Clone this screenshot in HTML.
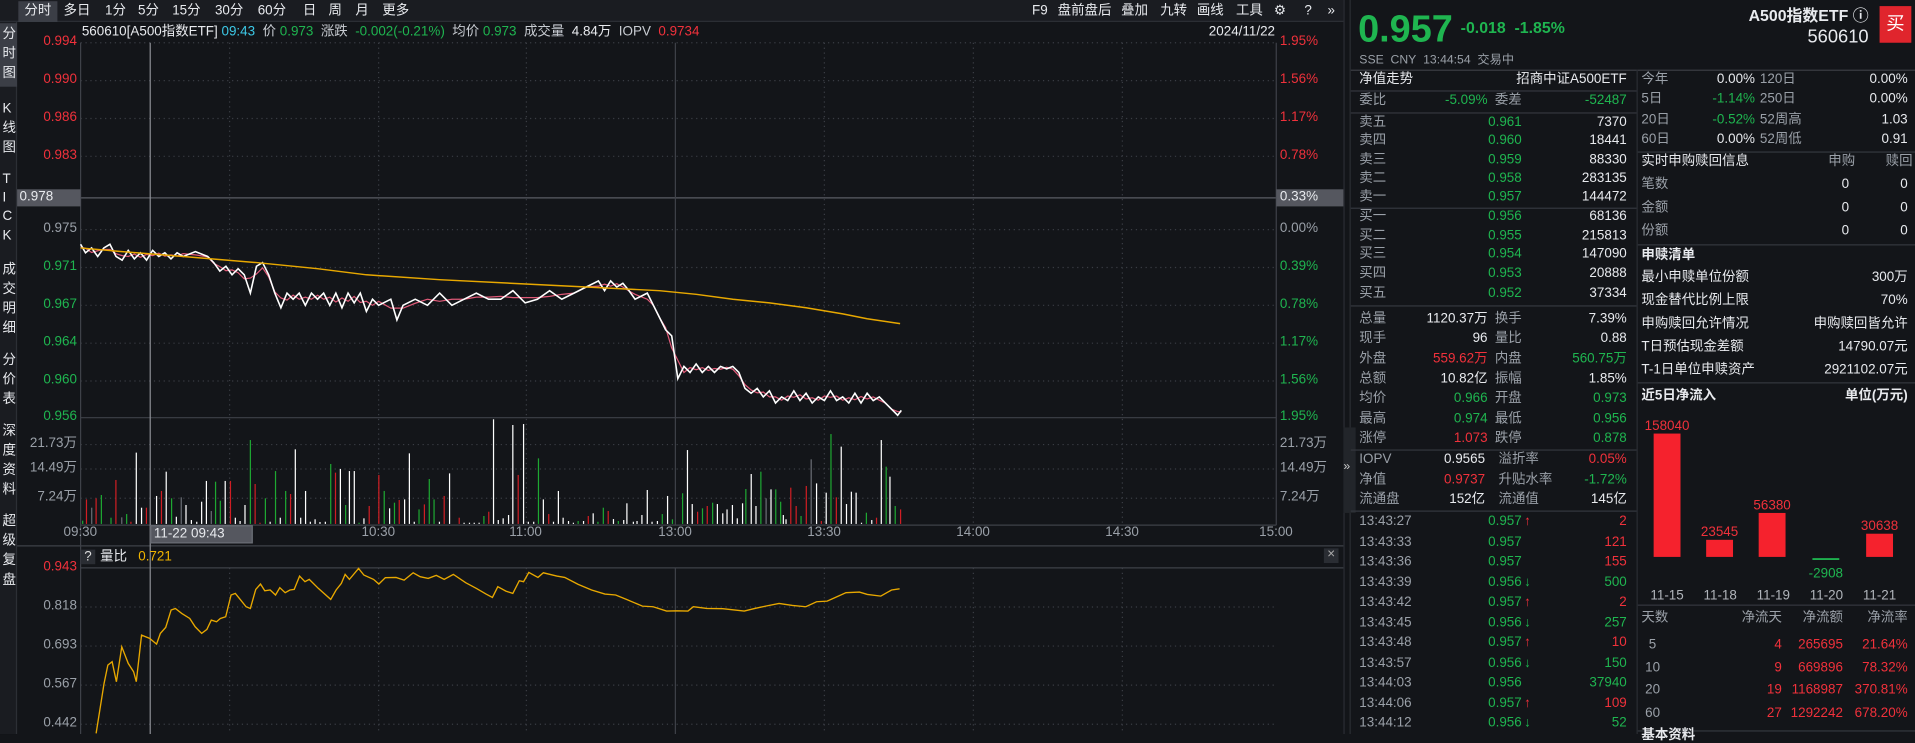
<!DOCTYPE html><html><head><meta charset="utf-8"><style>
*{margin:0;padding:0;box-sizing:border-box}
body{width:1915px;height:734px;overflow:hidden;background:#131519;font-family:"Liberation Sans","Noto Sans CJK SC",sans-serif;}
#root{position:absolute;left:0;top:0;width:1568px;height:601px;transform:scale(1.22130);transform-origin:0 0;color:#c8ccd2;font-size:11px;}
.a{position:absolute;white-space:nowrap;line-height:1}
.g{color:#1fb550}.rd{color:#f0313b}.gy{color:#9aa0a8}.w{color:#e8eaee}.y{color:#f0b400}
.hl{position:absolute;height:1px;background:#34373e}
.vl{position:absolute;width:1px;background:#34373e}
</style></head><body><div id="root">
<div class="a" style="left:0;top:0;width:1100px;height:18px;background:#1a1c21;border-bottom:1px solid #2c2f35"></div>
<div class="a" style="left:15px;top:1px;width:32px;height:17px;background:#3b3e46"></div>
<div class="vl" style="left:1100px;top:0;height:601px;background:#2a2d33"></div>
<div class="vl" style="left:1105px;top:0;height:601px;background:#2a2d33"></div>
<div class="a" style="left:0;top:18px;width:14px;height:583px;background:#1a1c21;border-right:1px solid #2c2f35"></div>
<div class="a" style="left:0;top:19px;width:14px;height:52px;background:#3b3e46"></div>
<div class="a" style="left:67px;top:21px;font-size:11px"><span class="w">560610[A500指数ETF]</span> <span style="color:#3cc8e6">09:43</span>&nbsp; 价 <span class="g">0.973</span>&nbsp; 涨跌&nbsp; <span class="g">-0.002(-0.21%)</span>&nbsp; 均价 <span class="g">0.973</span>&nbsp; 成交量&nbsp; <span class="w">4.84万</span>&nbsp; IOPV&nbsp; <span class="rd">0.9734</span></div>
<div class="a w" style="left:960px;top:21px;width:84px;text-align:right">2024/11/22</div>
<svg class="a" style="left:0;top:0" width="1100" height="601" id="ch"></svg>
<div class="a" style="left:123px;top:430px;width:84px;height:15px;background:#55575f;border:1px solid #6a6d75"></div>
<div class="a w" style="left:126px;top:432px">11-22 09:43</div>
<div class="a" style="left:66px;top:450px;width:12px;height:12px;background:#2a2d33;color:#ddd;text-align:center;line-height:12px">?</div>
<div class="a w" style="left:82px;top:451px">量比&nbsp;&nbsp; <span class="y">0.721</span></div>
<div class="a" style="left:1084px;top:449px;width:12px;height:12px;background:#2a2d33;color:#aaa;text-align:center;line-height:11px">×</div>
<div class="a" style="left:1100px;top:350px;width:10px;height:70px;background:#22252a;color:#ccc;font-size:10px;padding-top:28px">»</div>
<div class="a g" style="left:1112px;top:8px;font-size:31px;font-weight:bold">0.957</div>
<div class="a g" style="left:1196px;top:16px;font-size:13px;font-weight:bold">-0.018&nbsp;&nbsp;-1.85%</div>
<div class="a w" style="left:1400px;top:6px;width:130px;font-size:13px;font-weight:bold;text-align:right">A500指数ETF ⓘ</div>
<div class="a w" style="left:1430px;top:23px;width:100px;font-size:15px;text-align:right">560610</div>
<div class="a" style="left:1539px;top:5px;width:26px;height:30px;background:#e0252d;color:#fff;font-size:15px;text-align:center;line-height:30px">买</div>
<div class="a gy" style="left:1113px;top:45px;font-size:10px">SSE&nbsp; CNY&nbsp; 13:44:54&nbsp; 交易中</div>
<div class="hl" style="left:1106px;top:57px;width:462px;background:#3a3d44"></div>
<div class="vl" style="left:1340px;top:57px;height:544px;background:#2a2d33"></div>
<svg class="a" style="left:1340px;top:320px" width="228" height="180" id="fl"></svg>
</div>
<script>
const R=document.getElementById('root');
function t(x,y,s,c,al,w,fs,fw){const d=document.createElement('div');d.className='a '+(c||'');d.style.left=(al?x-(w||120):x)+'px';d.style.top=(y-6)+'px';if(al){d.style.width=(w||120)+'px';d.style.textAlign='right'}if(fs)d.style.fontSize=fs+'px';if(fw)d.style.fontWeight=fw;d.textContent=s;R.appendChild(d);}
function hl(x,y,w,c){const d=document.createElement('div');d.className='hl';d.style.left=x+'px';d.style.top=y+'px';d.style.width=w+'px';if(c)d.style.background=c;R.appendChild(d);}
[['分时',20],['多日',52],['1分',86],['5分',113],['15分',141],['30分',176],['60分',211],['日',248],['周',269],['月',291],['更多',313]].forEach(a=>t(a[1],10,a[0],'w'));
[['F9',845],['盘前盘后',866],['叠加',918],['九转',950],['画线',980],['工具',1012],['⚙',1043],['?',1068],['»',1087]].forEach(a=>t(a[1],10,a[0],'w'));
[['分',29],['时',45],['图',61],['K',90],['线',106],['图',122],['T',148],['I',163],['C',178],['K',194],['成',222],['交',238],['明',254],['细',270],['分',296],['价',312],['表',328],['深',354],['度',370],['资',386],['料',402],['超',428],['级',444],['复',460],['盘',476]].forEach(a=>t(2,a[1],a[0],'w'));
const S=document.getElementById('ch');let h='';
const L=66,RR=1045;
const ys=[35,66,97,128,162,188,219,250,281,312,342];
ys.forEach((y,i)=>{ if(i==4) h+=`<line x1="${L}" x2="${RR}" y1="${y}" y2="${y}" stroke="#5a5d64"/>`; else if(i==10) h+=`<line x1="${L}" x2="${RR}" y1="${y}" y2="${y}" stroke="#3e4148"/>`; else h+=`<line x1="${L}" x2="${RR}" y1="${y}" y2="${y}" stroke="#3a3d44" stroke-dasharray="1,3"/>`;});
[364,384,408].forEach(y=>h+=`<line x1="${L}" x2="${RR}" y1="${y}" y2="${y}" stroke="#3a3d44" stroke-dasharray="1,3"/>`);
[497,529,561,593].forEach(y=>h+=`<line x1="${L}" x2="${RR}" y1="${y}" y2="${y}" stroke="#3a3d44" stroke-dasharray="1,3"/>`);
[188,310,431,675,797,919].forEach(x=>h+=`<line x1="${x}" x2="${x}" y1="35" y2="430" stroke="#3a3d44" stroke-dasharray="1,3"/><line x1="${x}" x2="${x}" y1="465" y2="601" stroke="#3a3d44" stroke-dasharray="1,3"/>`);
h+=`<line x1="553" x2="553" y1="35" y2="430" stroke="#3e4148"/><line x1="553" x2="553" y1="465" y2="601" stroke="#3e4148"/>`;
h+=`<line x1="${L}" x2="${L}" y1="35" y2="601" stroke="#3e4148"/><line x1="${RR}" x2="${RR}" y1="35" y2="430" stroke="#3e4148"/>`;
h+=`<line x1="${L}" x2="${RR}" y1="430" y2="430" stroke="#3e4148"/><line x1="14" x2="1100" y1="447" y2="447" stroke="#3e4148"/>`;
h+=`<line x1="${L}" x2="1100" y1="465" y2="465" stroke="#3e4148"/>`;
h+=`<rect x="14" y="155" width="52" height="14" fill="#55575f"/><rect x="1045" y="155" width="55" height="14" fill="#55575f"/>`;
h+=`<line x1="123" x2="123" y1="35" y2="601" stroke="#8a8d94"/>`;
const B=[[5,332,'g'],[12,268,'r'],[22,293,'y'],[30,265,'r'],[40,255,'g'],[58,323,'g'],[67,210,'r'],[78,322,'y'],[87,312,'g'],[95,335,'r'],[105,128,'w'],[115,293,'w'],[124,293,'r'],[143,258,'w'],[152,243,'r'],[161,185,'w'],[171,265,'g'],[180,320,'w'],[189,262,'y'],[198,285,'w'],[208,330,'w'],[218,335,'w'],[227,275,'w'],[236,213,'w'],[245,303,'y'],[253,215,'g'],[262,272,'g'],[271,213,'w'],[281,213,'r'],[290,323,'w'],[299,333,'w'],[308,285,'w'],[318,90,'g'],[327,222,'r'],[336,338,'r'],[346,265,'g'],[355,335,'w'],[365,183,'g'],[374,323,'w'],[384,243,'g'],[393,252,'r'],[402,118,'w'],[412,323,'w'],[421,243,'w'],[430,335,'w'],[439,328,'w'],[448,336,'w'],[458,335,'w'],[468,162,'g'],[477,188,'r'],[486,177,'w'],[496,285,'g'],[503,183,'w'],[512,183,'w'],[521,338,'g'],[530,325,'w'],[540,288,'r'],[558,195,'r'],[568,243,'g'],[578,295,'w'],[587,278,'g'],[596,270,'r'],[606,268,'w'],[615,130,'w'],[624,335,'w'],[633,298,'g'],[643,283,'r'],[652,207,'g'],[661,268,'g'],[671,335,'w'],[680,258,'r'],[690,190,'w'],[708,323,'r'],[717,338,'w'],[727,338,'w'],[736,338,'w'],[745,338,'w'],[754,318,'g'],[763,305,'r'],[772,28,'w'],[781,330,'w'],[790,325,'w'],[800,315,'w'],[808,45,'w'],[818,195,'r'],[828,42,'w'],[837,335,'w'],[847,335,'w'],[856,145,'g'],[865,268,'w'],[875,312,'r'],[884,335,'w'],[893,243,'w'],[902,323,'w'],[912,333,'w'],[921,338,'w'],[930,333,'g'],[940,333,'w'],[949,318,'r'],[958,310,'w'],[967,335,'g'],[977,293,'g'],[986,303,'r'],[996,327,'w'],[1005,333,'g'],[1015,330,'w'],[1021,280,'w'],[1033,335,'w'],[1040,333,'w'],[1049,315,'w'],[1059,240,'w'],[1068,335,'w'],[1078,333,'w'],[1087,312,'g'],[1097,258,'w'],[1106,328,'g'],[1125,250,'g'],[1134,120,'w'],[1143,282,'w'],[1153,305,'r'],[1162,295,'g'],[1171,288,'r'],[1181,278,'g'],[1190,282,'w'],[1200,310,'w'],[1208,298,'w'],[1218,285,'w'],[1227,325,'w'],[1237,280,'w'],[1243,237,'g'],[1253,192,'w'],[1262,288,'w'],[1271,185,'g'],[1281,265,'y'],[1290,238,'w'],[1299,238,'g'],[1308,275,'g'],[1313,315,'w'],[1318,328,'w'],[1327,233,'r'],[1337,288,'r'],[1346,318,'g'],[1356,228,'r'],[1365,148,'y'],[1375,220,'w'],[1384,333,'r'],[1393,248,'w'],[1402,72,'g'],[1412,262,'r'],[1421,110,'w'],[1431,282,'w'],[1440,245,'w'],[1449,248,'w'],[1459,338,'w'],[1468,308,'g'],[1478,330,'w'],[1487,323,'r'],[1496,90,'w'],[1505,170,'g'],[1512,200,'w'],[1522,288,'g'],[1532,298,'r']];
const CM={w:'#ffffff',g:'#1ea832',r:'#d01e24',y:'#6a6d75'};
B.forEach(b=>{const x=(65.5+b[0]*0.4386).toFixed(1);h+=`<line x1="${x}" x2="${x}" y1="429" y2="${(335.7+b[1]*0.273).toFixed(1)}" stroke="${CM[b[2]]}" stroke-width="1"/>`;});
const P=[66,200,70,207,75,203,80,210,85,203,90,200,95,210,100,213,105,205,110,212,115,207,120,213,125,205,130,210,135,207,140,212,145,207,150,210,160,206,170,210,175,215,180,222,185,218,190,225,195,220,200,225,205,240,210,218,215,215,220,225,225,240,230,252,235,240,240,245,245,240,250,250,255,240,260,245,265,240,270,250,275,240,280,252,285,240,290,248,295,240,300,255,305,245,310,250,320,245,325,262,330,250,340,245,350,250,360,240,370,250,380,245,390,240,400,245,410,245,420,238,430,248,440,245,450,238,460,245,470,240,480,235,490,230,495,238,500,230,505,235,510,232,515,238,520,245,530,240,535,250,540,260,545,270,550,275,555,310,560,300,565,305,570,298,575,305,580,300,585,305,590,300,595,302,600,300,605,305,610,318,615,322,620,318,625,325,630,320,635,330,640,325,645,328,650,320,655,328,660,322,665,330,670,325,675,328,680,320,685,328,690,325,695,330,700,322,705,330,710,322,715,328,720,325,725,330,730,335,735,340,738,336];
let pts='',sm='';for(let i=0;i<P.length;i+=2){pts+=P[i]+','+P[i+1]+' ';const j=Math.max(0,i-2),k=Math.min(P.length-2,i+2);sm+=P[i]+','+((P[j+1]+P[i+1]+P[k+1])/3).toFixed(1)+' ';}
h+=`<polyline points="${sm}" fill="none" stroke="#e05a78" stroke-width="1"/>`;
h+=`<polyline points="${pts}" fill="none" stroke="#ffffff" stroke-width="1.3"/>`;
h+=`<polyline points="66,203 100,206 150,210 210,215 260,220 300,225 360,229 420,232 480,235 540,238 570,241 600,245 630,248 660,252 690,257 710,261 737,265" fill="none" stroke="#e8a800" stroke-width="1.2"/>`;
const Q=[30,580,45,430,52,375,60,365,68,425,78,320,90,370,100,395,105,425,115,285,130,295,143,312,150,280,160,262,170,210,178,205,190,220,205,235,215,260,227,280,237,268,245,240,255,245,262,235,272,230,282,165,290,160,300,180,310,200,318,205,328,148,337,132,345,152,355,150,365,165,373,143,383,158,392,150,400,148,410,108,420,125,428,118,445,145,468,178,478,150,488,130,495,103,503,118,520,85,530,105,548,118,558,132,570,113,590,112,605,120,622,98,635,110,650,115,665,106,680,118,697,103,720,128,740,145,758,162,770,172,780,140,795,153,808,160,820,122,828,125,838,97,855,112,865,98,890,108,905,112,930,133,955,150,980,162,1000,165,1020,178,1050,198,1070,200,1095,213,1115,212,1135,213,1145,200,1170,205,1200,206,1240,213,1260,205,1280,198,1305,190,1330,196,1355,200,1375,185,1395,183,1410,172,1430,158,1455,156,1470,163,1495,168,1515,150,1530,146];
let q='';for(let i=0;i<Q.length;i+=2)q+=(65.5+Q[i]*0.4386).toFixed(1)+','+(442.2+Q[i+1]*0.273).toFixed(1)+' ';
h+=`<polyline points="${q}" fill="none" stroke="#e8a800" stroke-width="1.1"/>`;
S.innerHTML=h;
const LL=[['0.994','rd'],['0.990','rd'],['0.986','rd'],['0.983','rd'],['0.978','w'],['0.975','gy'],['0.971','g'],['0.967','g'],['0.964','g'],['0.960','g'],['0.956','g']];
const RL=[['1.95%','rd'],['1.56%','rd'],['1.17%','rd'],['0.78%','rd'],['0.33%','w'],['0.00%','gy'],['0.39%','g'],['0.78%','g'],['1.17%','g'],['1.56%','g'],['1.95%','g']];
ys.forEach((y,i)=>{ if(i==4){t(16,y,LL[i][0],'w');t(1048,y,RL[i][0],'w');} else {t(63,y,LL[i][0],LL[i][1],1,50);t(1048,y,RL[i][0],RL[i][1]);} });
[['21.73万',364],['14.49万',384],['7.24万',408]].forEach(a=>{t(63,a[1],a[0],'gy',1,50);t(1048,a[1],a[0],'gy');});
[['09:30',66],['10:30',310],['11:00',431],['13:00',553],['13:30',675],['14:00',797],['14:30',919],['15:00',1045]].forEach(a=>t(a[1]-14,437,a[0],'gy'));
[['0.943','rd'],['0.818','gy'],['0.693','gy'],['0.567','gy'],['0.442','gy']].forEach((a,i)=>t(63,465+32*i,a[0],a[1],1,50));
const C1=1113,V1=1246,V2=1332;
t(C1,66,'净值走势','w');t(V2,66,'招商中证A500ETF','w',1,150);hl(1106,74,234);
t(C1,83,'委比','gy');t(1218,83,'-5.09%','g',1);t(1224,83,'委差','gy');t(V2,83,'-52487','g',1);hl(1106,92,234);
[['卖五','0.961','7370'],['卖四','0.960','18441'],['卖三','0.959','88330'],['卖二','0.958','283135'],['卖一','0.957','144472']].forEach((a,i)=>{const y=101+15.3*i;t(C1,y,a[0],'gy');t(V1,y,a[1],'g',1);t(V2,y,a[2],'w',1);});
hl(1106,170,234);
[['买一','0.956','68136'],['买二','0.955','215813'],['买三','0.954','147090'],['买四','0.953','20888'],['买五','0.952','37334']].forEach((a,i)=>{const y=178+15.7*i;t(C1,y,a[0],'gy');t(V1,y,a[1],'g',1);t(V2,y,a[2],'w',1);});
hl(1106,250,234);
[['总量','1120.37万','w','换手','7.39%','w'],['现手','96','w','量比','0.88','w'],['外盘','559.62万','rd','内盘','560.75万','g'],['总额','10.82亿','w','振幅','1.85%','w'],['均价','0.966','g','开盘','0.973','g'],['最高','0.974','g','最低','0.956','g'],['涨停','1.073','rd','跌停','0.878','g']].forEach((a,i)=>{const y=262+16.3*i;t(C1,y,a[0],'gy');t(1218,y,a[1],a[2],1);t(1224,y,a[3],'gy');t(V2,y,a[4],a[5],1);});
hl(1106,368,234);
[['IOPV','0.9565','w','溢折率','0.05%','rd'],['净值','0.9737','rd','升贴水率','-1.72%','g'],['流通盘','152亿','w','流通值','145亿','w']].forEach((a,i)=>{const y=377+16.5*i;t(C1,y,a[0],'gy');t(1216,y,a[1],a[2],1);t(1227,y,a[3],'gy');t(V2,y,a[4],a[5],1);});
hl(1106,418,234);
[['13:43:27','0.957','↑','2','rd'],['13:43:33','0.957','','121','rd'],['13:43:36','0.957','','155','rd'],['13:43:39','0.956','↓','500','g'],['13:43:42','0.957','↑','2','rd'],['13:43:45','0.956','↓','257','g'],['13:43:48','0.957','↑','10','rd'],['13:43:57','0.956','↓','150','g'],['13:44:03','0.956','','37940','g'],['13:44:06','0.957','↑','109','rd'],['13:44:12','0.956','↓','52','g']].forEach((a,i)=>{const y=428+16.5*i;t(C1,y,a[0],'gy');t(1246,y,a[1],'g',1);if(a[2])t(1248,y,a[2],a[2]=='↑'?'rd':'g',0,0,11,'bold');t(V2,y,a[3],a[4],1);});
const D1=1344,E1=1437,F2=1441,G2=1562;
[['今年','0.00%','w','120日','0.00%'],['5日','-1.14%','g','250日','0.00%'],['20日','-0.52%','g','52周高','1.03'],['60日','0.00%','w','52周低','0.91']].forEach((a,i)=>{const y=66+16.3*i;t(D1,y,a[0],'gy');t(E1,y,a[1],a[2],1);t(F2,y,a[3],'gy');t(G2,y,a[4],'w',1);});
hl(1341,124,227);
t(D1,133,'实时申购赎回信息','w');t(1497,133,'申购','gy');t(1544,133,'赎回','gy');
[['笔数',152],['金额',171],['份额',190]].forEach(a=>{t(D1,a[1],a[0],'gy');t(1514,a[1],'0','w',1);t(G2,a[1],'0','w',1);});
hl(1341,200,227);
t(D1,210,'申赎清单','w',0,0,11,'bold');
[['最小申赎单位份额','300万'],['现金替代比例上限','70%'],['申购赎回允许情况','申购赎回皆允许'],['T日预估现金差额','14790.07元'],['T-1日单位申赎资产','2921102.07元']].forEach((a,i)=>{const y=228+19*i;t(D1,y,a[0],'w');t(G2,y,a[1],'w',1);});
hl(1341,313,227);
t(D1,325,'近5日净流入','w',0,0,11,'bold');t(G2,325,'单位(万元)','w',1,100,11,'bold');
hl(1341,495,227);
t(D1,507,'天数','gy');t(1459,507,'净流天','gy',1);t(1509,507,'净流额','gy',1,60);t(G2,507,'净流率','gy',1);
[['5','4','265695','21.64%'],['10','9','669896','78.32%'],['20','19','1168987','370.81%'],['60','27','1292242','678.20%']].forEach((a,i)=>{const y=529+18.5*i;t(a[0].length>1?1347:1350,y,a[0],'gy');t(1459,y,a[1],'rd',1);t(1509,y,a[2],'rd',1,60);t(G2,y,a[3],'rd',1,50);});
hl(1341,598,227);t(D1,603,'基本资料','w',0,0,11,'bold');
let f='';
[[14,158040,355],[57,23545,442],[100,56380,420],[188,30638,437]].forEach(a=>{f+=`<rect x="${a[0]}" y="${a[2]-320}" width="22" height="${456-a[2]}" fill="#f5222d"/><text x="${a[0]+11}" y="${a[2]-323}" fill="#f0313b" font-size="11" text-anchor="middle" font-family="Liberation Sans">${a[1]}</text>`;});
f+=`<rect x="144" y="137" width="22" height="1.5" fill="#1fb550"/><text x="155" y="153" fill="#1fb550" font-size="11" text-anchor="middle" font-family="Liberation Sans">-2908</text>`;
['11-15','11-18','11-19','11-20','11-21'].forEach((d,i)=>f+=`<text x="${25+43.5*i}" y="171" fill="#b0b4ba" font-size="11" text-anchor="middle" font-family="Liberation Sans">${d}</text>`);
document.getElementById('fl').innerHTML=f;
</script></body></html>
